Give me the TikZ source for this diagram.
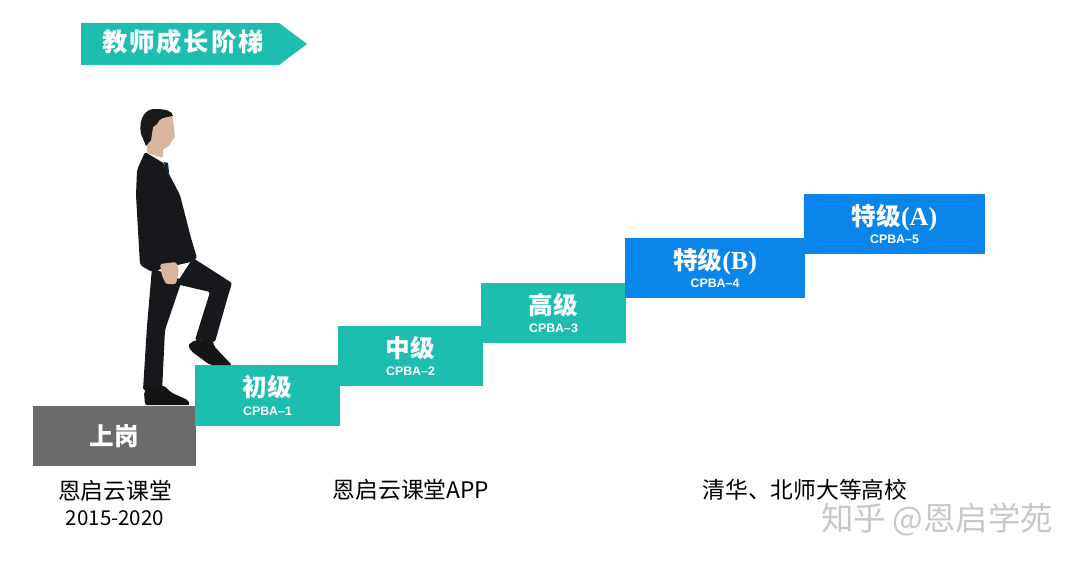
\documentclass[tikz,border=0pt]{standalone}
\usepackage{fontspec}
\setmainfont{Noto Sans CJK SC}
\newfontfamily\cjktitle[LetterSpace=8]{Noto Sans CJK SC}
\newfontfamily\latinhead{Liberation Serif}
\newfontfamily\latinsub{Liberation Sans}
\usepackage{tikz}
\definecolor{stepteal}{HTML}{1DBDAF}
\definecolor{stepblue}{HTML}{0A86EA}
\definecolor{stepgray}{HTML}{6B6B6B}
\definecolor{suitblack}{HTML}{17181B}
\definecolor{skintone}{HTML}{D9B5A0}
\tikzset{
  lowstep/.style={fill=stepteal,text=white,minimum width=3.6cm,minimum height=1.5cm,inner sep=0pt,align=center},
  highstep/.style={fill=stepblue,text=white,minimum width=4.5cm,minimum height=1.5cm,inner sep=0pt,align=center},
  basestep/.style={fill=stepgray,text=white,minimum width=4.075cm,minimum height=1.5cm,inner sep=0pt},
  caption/.style={text=black,inner sep=0pt,font=\fontsize{16.2}{18}\selectfont},
  manpart/.style={rounded corners=1.5pt},
}
\newcommand{\stephead}[1]{{\fontsize{17.5}{20}\selectfont\bfseries #1}\\[1.2pt]}
\newcommand{\stepsub}[1]{{\latinsub\fontsize{8.8}{11}\selectfont\bfseries #1}}
\newcommand{\headlatin}[1]{{\latinhead\fontsize{18.5}{20}\selectfont #1}}
\begin{document}
\begin{tikzpicture}[x=0.025cm,y=-0.025cm]
\useasboundingbox (0,0) rectangle (1080,565);
% title arrow
\fill [stepteal] (81,23) -- (279,23) -- (307,44) -- (279,65) -- (81,65) -- cycle;
\node [text=white,inner sep=0pt] (title) at (183,42) {\cjktitle\fontsize{18}{20}\selectfont\bfseries 教师成长阶梯};
% steps
\node [basestep] (s0) at (114.5,436) {\fontsize{17.5}{20}\selectfont\bfseries 上岗};
\node [lowstep] (s1) at (267.5,395.5) {\stephead{初级}\stepsub{CPBA–1}};
\node [lowstep] (s2) at (410.5,356) {\stephead{中级}\stepsub{CPBA–2}};
\node [lowstep] (s3) at (553.5,313) {\stephead{高级}\stepsub{CPBA–3}};
\node [highstep] (s4) at (715,268) {\stephead{特级\headlatin{(B)}}\stepsub{CPBA–4}};
\node [highstep] (s5) at (894.5,224) {\stephead{特级\headlatin{(A)}}\stepsub{CPBA–5}};
% man
\fill [skintone,manpart] (147,128) -- (172,114) -- (174,128) -- (175,138) -- (171,141) -- (170,146) -- (163,149) -- (163,158) -- (147,153) -- cycle;
\fill [black!90] (146,146) -- (141,134) .. controls (138,118) and (146,108) .. (156,109) .. controls (165,109) and (173,111) .. (173,116) .. controls (166,117) and (159,118) .. (157,124) -- (153,127) -- (151,140) -- cycle;
\fill [suitblack,manpart] (152,268) -- (147,326) -- (143,390) -- (162,392) -- (165,330) -- (182,280) -- cycle;
\fill [suitblack,manpart] (176,284) -- (193,258) -- (232,283) -- (228,296) -- (215,342) -- (195,340) -- (210,292) -- cycle;
\fill [suitblack,manpart] (145,152) -- (137,170) -- (136,195) -- (140,265) -- (152,272) -- (164,268) -- (191,262) -- (197,258) -- (191,238) -- (180,195) -- (168,172) -- (165,164) -- cycle;
\fill [stepblue!30!black] (164,162) -- (168,163) -- (169,172) -- (167,175) -- cycle;
\fill [skintone,manpart] (160,264) -- (176,262) -- (179,270) -- (176,284) -- (166,284) -- (162,276) -- cycle;
\fill [black!92,manpart] (144,392) -- (145,405) -- (190,405) -- (188,400) -- (172,393) -- (163,385) -- (146,389) -- cycle;
\fill [black!92,manpart] (195,340) -- (188,345) -- (191,351) -- (210,365) -- (232,365) -- (226,359) -- (214,346) -- (213,341) -- cycle;
% captions
\node [caption] (c1) at (115,491) {恩启云课堂};
\node [caption,font=\fontsize{14.6}{16}\selectfont] (c2) at (115,518) {2015-2020};
\node [caption] (c3) at (411,490) {恩启云课堂APP};
\node [caption] (c4) at (805,490) {清华、北师大等高校};
\node [text=black!22,inner sep=0pt,font=\fontsize{23}{26}\selectfont] (mark) at (937,520) {知乎\ @恩启学苑};
\end{tikzpicture}
\end{document}
